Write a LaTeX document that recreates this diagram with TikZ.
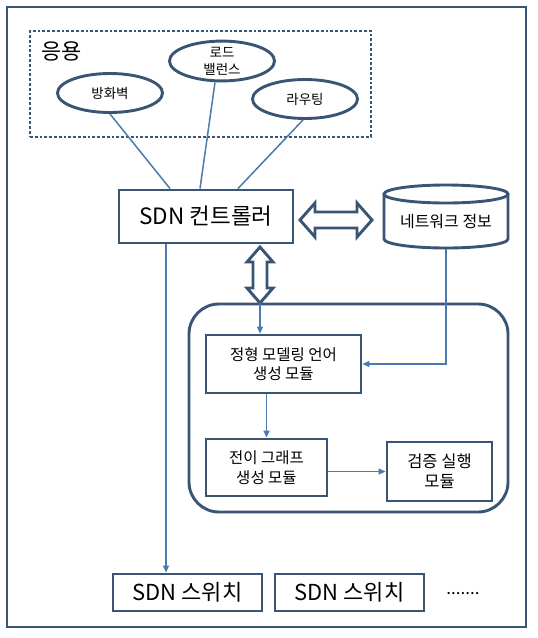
\documentclass[tikz,border=0pt]{standalone}
\usepackage{fontspec}
\setmainfont{Noto Sans CJK KR}
\usetikzlibrary{shapes.geometric,arrows.meta}
\definecolor{edgecol}{HTML}{3A5574}
\definecolor{conncol}{HTML}{4A7AB0}
\begin{document}
\begin{tikzpicture}[x=1pt,y=-1pt,
  shapeline/.style={draw=edgecol, line width=2.9pt},
  box/.style={shapeline, rectangle, inner sep=0pt, align=center, fill=white},
  app/.style={shapeline, ellipse, fill=white, minimum width=105pt, minimum height=39pt, inner sep=0pt, align=center, font=\fontsize{13.5}{17}\selectfont},
  modbox/.style={box, font=\fontsize{15.5}{19.5}\selectfont},
  bigtxt/.style={font=\fontsize{22}{24}\selectfont},
  conn/.style={draw=conncol, line width=1.5pt},
  arr/.style={conn, -{Triangle[length=7pt,width=6pt]}},
  ]
\useasboundingbox (0,0) rectangle (538,638);
\fill[white] (0,0) rectangle (538,638);

% outer frame
\node[shapeline, rectangle, minimum width=519pt, minimum height=620pt, inner sep=0pt] (frame) at (266.5,317) {};

% application group
\node[draw=edgecol, line width=2.8pt, dash pattern=on 2.8pt off 2pt, rectangle, minimum width=341pt, minimum height=106pt, inner sep=0pt] (appgrp) at (200.5,84) {};
\node[bigtxt, anchor=west, inner sep=0pt] (applbl) at (41,51) {응용};

% verification container
\node[shapeline, rectangle, rounded corners=30pt, minimum width=319pt, minimum height=208pt, inner sep=0pt] (cont) at (348.5,408) {};

% apps
\node[app] (fw) at (110,93) {방화벽};
\node[app] (lb) at (222,61) {로드\\밸런스};
\node[app] (rt) at (305,99) {라우팅};

% controller
\node[box, font=\fontsize{22.5}{26}\selectfont, minimum width=174pt, minimum height=53pt] (ctrl) at (206,216.5) {SDN 컨트롤러};

\draw[conn] (fw.south) -- ([xshift=-36pt]ctrl.north);
\draw[conn] ([xshift=-7pt]lb.south) -- ([xshift=-6pt]ctrl.north);
\draw[conn] ([xshift=-2pt]rt.south) -- ([xshift=32pt]ctrl.north);

% network info cylinder
\draw[shapeline, fill=white] (384,194) -- (384,239) arc[start angle=180, end angle=360, x radius=62pt, y radius=9pt] -- (508,194);
\draw[shapeline] (446,194) ellipse[x radius=62pt, y radius=9pt];
\node[minimum width=124pt, minimum height=54pt, inner sep=0pt, font=\fontsize{16}{18}\selectfont] (db) at (446,222) {네트워크 정보};

% horizontal double arrow
\draw[shapeline, fill=white, line join=miter]
  (300,220) -- (315,203) -- (315,212) -- (357,212) -- (357,203) -- (372,220)
  -- (357,237) -- (357,228) -- (315,228) -- (315,237) -- cycle;

% vertical double arrow
\draw[shapeline, fill=white, line join=miter]
  (260,247) -- (273,262) -- (267,262) -- (267,288) -- (273,288) -- (260,303)
  -- (247,288) -- (253,288) -- (253,262) -- (247,262) -- cycle;
\coordinate (vtip) at (260,303);

% modules
\node[modbox, minimum width=155pt, minimum height=58pt] (mod1) at (283.5,364) {정형 모델링 언어\\생성 모듈};
\node[modbox, minimum width=121pt, minimum height=57pt] (mod2) at (266.5,467.5) {전이 그래프\\생성 모듈};
\node[modbox, font=\fontsize{16.5}{20}\selectfont, minimum width=105pt, minimum height=59pt] (mod3) at (439.5,471.5) {검증 실행\\모듈};

\draw[arr] (vtip) -- (mod1.north -| vtip);
\draw[arr] (db.south) |- (mod1.east);
\draw[arr] (mod1.south -| mod2.north) -- (mod2.north);
\draw[arr] ([yshift=-4pt]mod2.east) -- ([yshift=-4pt]mod2.east -| mod3.west);

% switches
\node[box, bigtxt, minimum width=149pt, minimum height=37pt] (sw1) at (187.5,592.5) {SDN 스위치};
\node[box, bigtxt, minimum width=149pt, minimum height=37pt] (sw2) at (349.5,592.5) {SDN 스위치};
\node[font=\fontsize{17}{19}\selectfont, inner sep=0pt] (dots) at (463,594) {.......};

\draw[arr] ([xshift=-40pt]ctrl.south) -- ([xshift=-21.5pt]sw1.north);
\end{tikzpicture}
\end{document}
